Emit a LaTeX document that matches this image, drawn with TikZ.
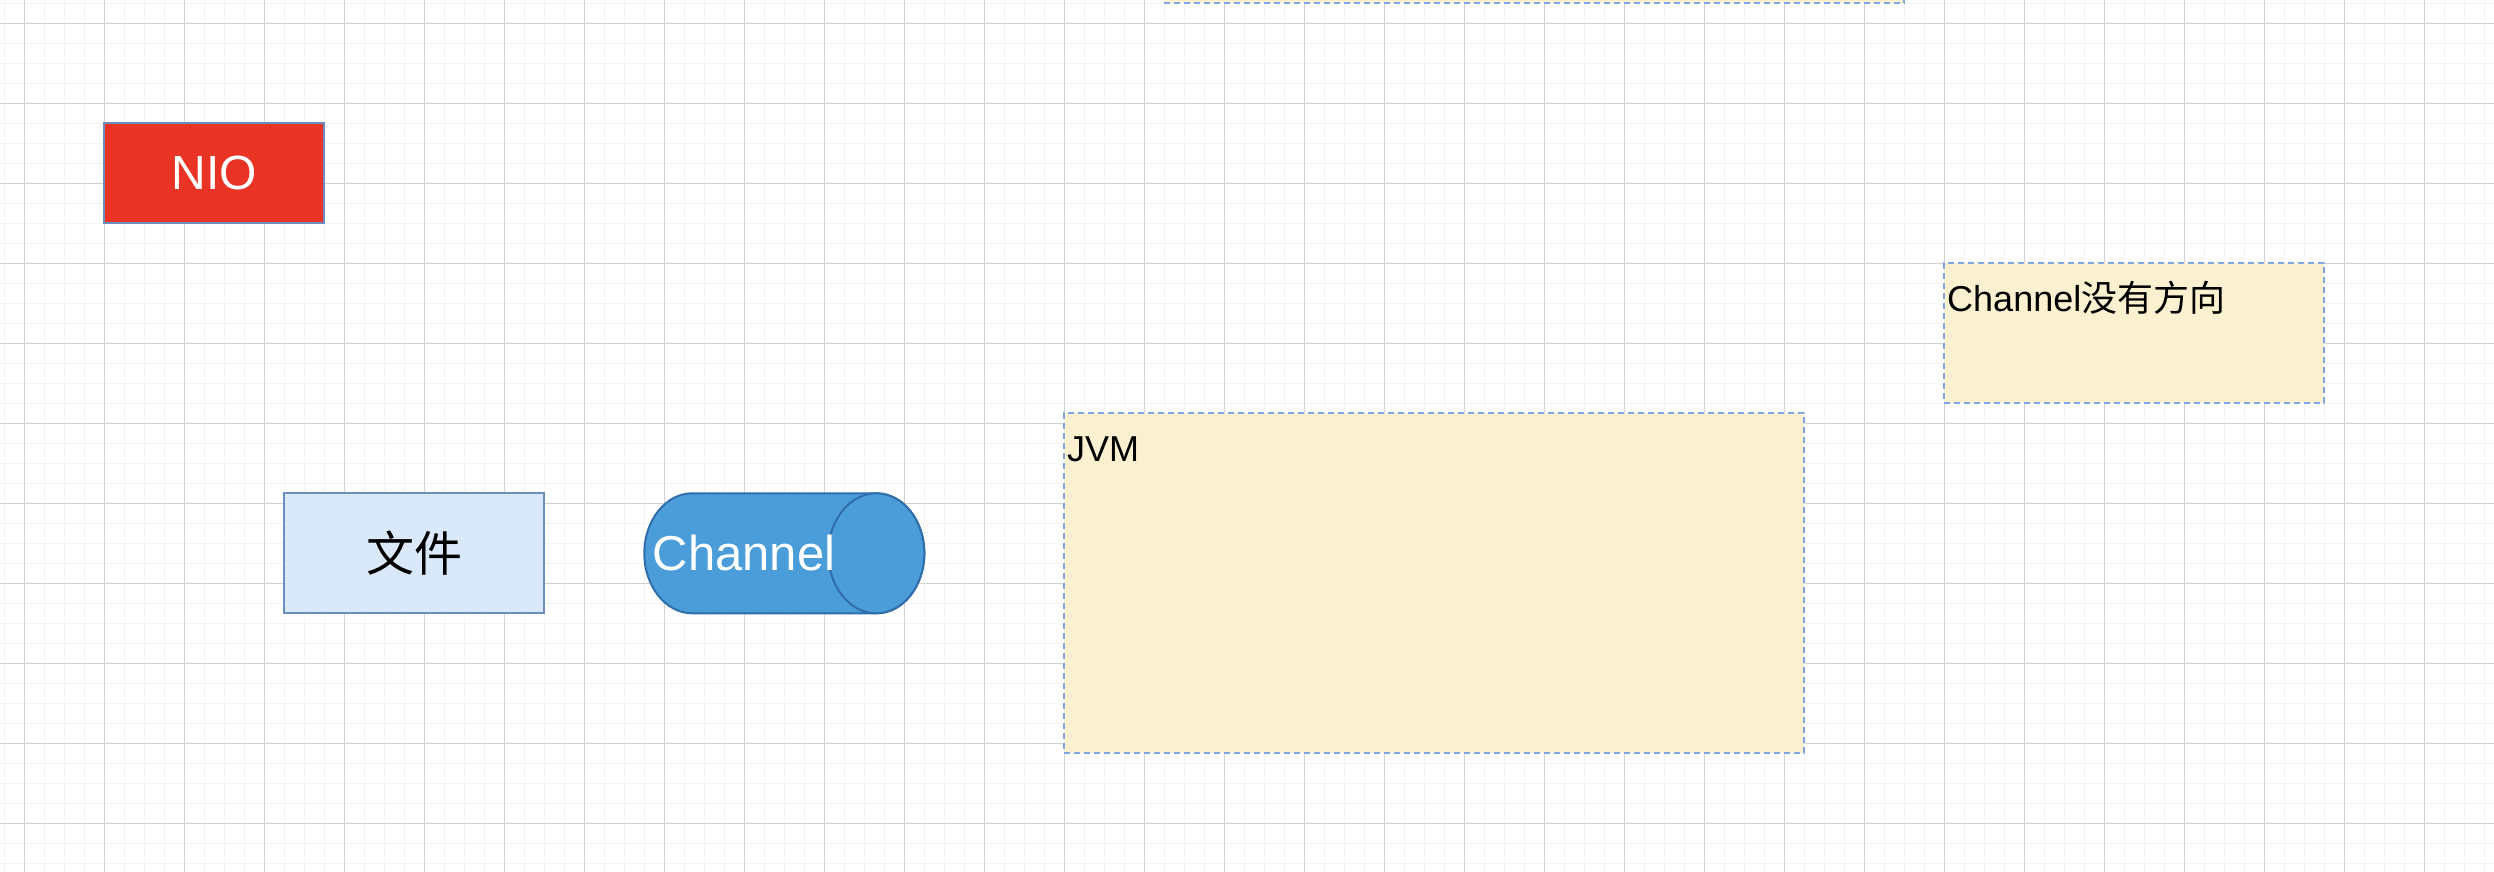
\documentclass[tikz,border=0pt]{standalone}
\usepackage{fontspec}
\setmainfont{Liberation Sans}
\newfontfamily\cjk{Noto Sans CJK SC}
\definecolor{niored}{HTML}{E93324}
\definecolor{bluebord}{HTML}{6C8EBF}
\definecolor{filefill}{HTML}{DAE8FC}
\definecolor{notefill}{HTML}{FBF1D0}
\definecolor{dashblue}{HTML}{7EA6E0}
\definecolor{cylfill}{HTML}{4A9DD9}
\definecolor{cylbord}{HTML}{2F6EAA}
\definecolor{gridminor}{HTML}{F3F3F3}
\definecolor{gridmajor}{HTML}{D2D2D2}
\begin{document}
\begin{tikzpicture}[x=1pt,y=-1pt,
  minorline/.style={draw=gridminor,line width=1.5pt},
  majorline/.style={draw=gridmajor,line width=1pt},
  niobox/.style={rectangle,draw=bluebord,fill=niored,line width=2pt,inner sep=0pt,
    minimum width=220pt,minimum height=100pt,text=white,font=\fontsize{48}{58}\selectfont},
  filebox/.style={rectangle,draw=bluebord,fill=filefill,line width=2pt,inner sep=0pt,
    minimum width=260pt,minimum height=120pt,font=\fontsize{48}{58}\selectfont\cjk},
  notebox/.style={rectangle,draw=dashblue,fill=notefill,line width=2pt,
    dash pattern=on 6pt off 4pt,inner sep=0pt},
  notetext/.style={inner sep=0pt,font=\fontsize{36}{43}\selectfont},
  cylbody/.style={draw=cylbord,fill=cylfill,line width=2pt},
  cyltext/.style={inner sep=0pt,text=white,font=\fontsize{49}{59}\selectfont}]
\useasboundingbox (0,0) rectangle (2494,872);
\clip (0,0) rectangle (2494,872);
\fill[white] (0,0) rectangle (2494,872);
% grid
\foreach \i in {0,...,124} \draw[minorline] ({4.3+20*\i},0) -- ({4.3+20*\i},872);
\foreach \j in {0,...,43} \draw[minorline] (0,{3.3+20*\j}) -- (2494,{3.3+20*\j});
\foreach \i in {0,...,31} \draw[majorline] ({24.3+80*\i},0) -- ({24.3+80*\i},872);
\foreach \j in {0,...,10} \draw[majorline] (0,{23.3+80*\j}) -- (2494,{23.3+80*\j});
% nodes
\node[niobox] (nio) at (214.3,173.3) {NIO};
\node[filebox] (file) at (414.3,553.3) {文件};
% cylinder
\path[cylbody] (692.3,493.3) -- (876.3,493.3)
  arc[start angle=-90,end angle=90,x radius=48,y radius=60]
  -- (692.3,613.3)
  arc[start angle=90,end angle=270,x radius=48,y radius=60] -- cycle;
\draw[cylbody] (876.3,553.3) ellipse [x radius=48,y radius=60];
\node[cyltext] (chan) at (744,553.3) {Channel};
% notes
\node[notebox,minimum width=740pt,minimum height=200pt] (topbox) at (1534.3,-96.7) {};
\node[notebox,minimum width=740pt,minimum height=340pt] (jvm) at (1434.3,583.3) {};
\node[notetext,anchor=base west] (jvmlabel) at (1067,461) {JVM};
\node[notebox,minimum width=380pt,minimum height=140pt] (dirnote) at (2134.3,333.3) {};
\node[notetext,anchor=base west] (dirlabel) at (1947,311) {Channel{\cjk 没有方向}};
\end{tikzpicture}
\end{document}
